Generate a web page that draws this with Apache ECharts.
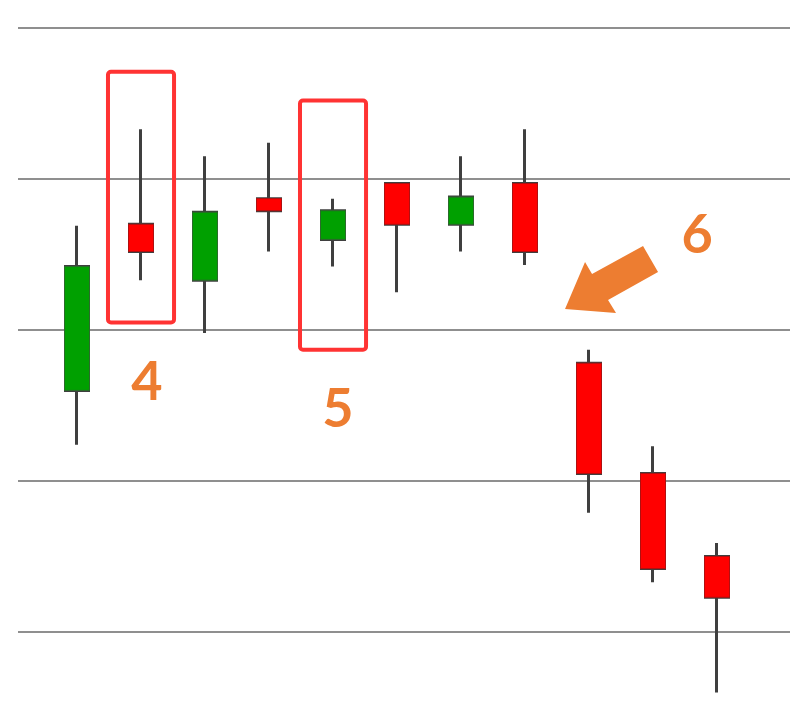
<!DOCTYPE html>
<html>
<head>
<meta charset="utf-8">
<script src="https://cdn.jsdelivr.net/npm/echarts@6/dist/echarts.min.js"></script>
<style>
  html, body { margin: 0; padding: 0; background: #ffffff; }
  #chart { width: 803px; height: 713px; }
</style>
</head>
<body>
<div id="chart"></div>
<script>
// ---- data ----
const positions = [0, 1, 2, 3, 4, 5, 6, 7, 8, 9, 10];
const openV  = [26.0, 37.0, 33.3, 38.7, 36.0, 39.7, 37.0, 39.7, 27.8, 20.5, 15.0];
const closeV = [34.2, 35.2, 37.8, 37.9, 37.9, 37.0, 38.8, 35.2, 20.5, 14.2, 12.3];
const lowV   = [22.4, 33.3, 29.8, 35.2, 34.2, 32.5, 35.2, 34.3, 17.9, 13.3, 6.0];
const highV  = [36.9, 43.3, 41.5, 42.4, 38.7, 39.7, 41.5, 43.3, 28.7, 22.3, 15.9];
const yTicks = [10, 20, 30, 40, 50];

// annotations in data coordinates
const boxes = [
  { x0: 0.484, x1: 1.516, y0: 47.1, y1: 30.5 },
  { x0: 3.484, x1: 4.516, y0: 45.2, y1: 28.7 }
];
const labels = [
  { text: '4', x: 1.094, y: 26.49 },
  { text: '5', x: 4.078, y: 24.70 },
  { text: '6', x: 9.688, y: 36.23 }
];
const arrowTip = { x: 7.625, y: 31.39 };

// ---- build ----
const wickData = positions.map((p, i) => [p, openV[i], closeV[i], lowV[i], highV[i]]);
const bodyData = positions.map((p, i) => [p, openV[i], closeV[i],
  Math.min(openV[i], closeV[i]), Math.max(openV[i], closeV[i])]);

const chart = echarts.init(document.getElementById('chart'), null, { renderer: 'canvas' });
chart.setOption({
  animation: false,
  backgroundColor: '#ffffff',
  grid: { left: 18, right: 13, top: 28, bottom: 81, containLabel: false },
  xAxis: {
    type: 'value', min: -0.922, max: 11.14,
    axisLine: { show: false }, axisTick: { show: false },
    axisLabel: { show: false }, splitLine: { show: false }
  },
  yAxis: {
    type: 'value', min: yTicks[0], max: yTicks[yTicks.length - 1], interval: 10,
    axisLine: { show: false }, axisTick: { show: false }, axisLabel: { show: false },
    splitLine: { show: true, lineStyle: { color: '#8f8f8f', width: 2 } }
  },
  series: [
    {
      type: 'candlestick', data: wickData, encode: { x: 0, y: [1, 2, 3, 4] },
      barWidth: 23, clip: false,
      itemStyle: { color: '#3f3f3f', color0: '#3f3f3f', borderColor: '#3f3f3f', borderColor0: '#3f3f3f', borderWidth: 3 }
    },
    {
      type: 'candlestick', data: bodyData, encode: { x: 0, y: [1, 2, 3, 4] },
      barWidth: 25, clip: false,
      itemStyle: { color: '#00a000', color0: '#ff0000', borderColor: '#2b6a2b', borderColor0: '#b01010', borderWidth: 1 }
    }
  ]
});

function px(x, y) { return chart.convertToPixel({ gridIndex: 0 }, [x, y]); }

const graphics = [];
boxes.forEach(b => {
  const p0 = px(b.x0, b.y0), p1 = px(b.x1, b.y1);
  graphics.push({
    type: 'rect', z: 100,
    shape: { x: p0[0], y: p0[1], width: p1[0] - p0[0], height: p1[1] - p0[1], r: 3 },
    style: { fill: null, stroke: '#ff3333', lineWidth: 4 }
  });
});
labels.forEach(l => {
  const p = px(l.x, l.y);
  graphics.push({
    type: 'text', z: 100, x: p[0], y: p[1],
    style: { text: l.text, fill: '#ed7d31', font: 'bold 54px Lato, "Open Sans", sans-serif',
             textAlign: 'center', textVerticalAlign: 'middle' }
  });
});
const tip = px(arrowTip.x, arrowTip.y);
const arrowShape = [[0, 0], [20, -47], [27, -35], [78, -63], [93, -37], [43, -9], [51, 4]];
graphics.push({
  type: 'polygon', z: 100,
  shape: { points: arrowShape.map(o => [tip[0] + o[0], tip[1] + o[1]]) },
  style: { fill: '#ed7d31', stroke: null }
});
chart.setOption({ graphic: graphics });
</script>
</body>
</html>
